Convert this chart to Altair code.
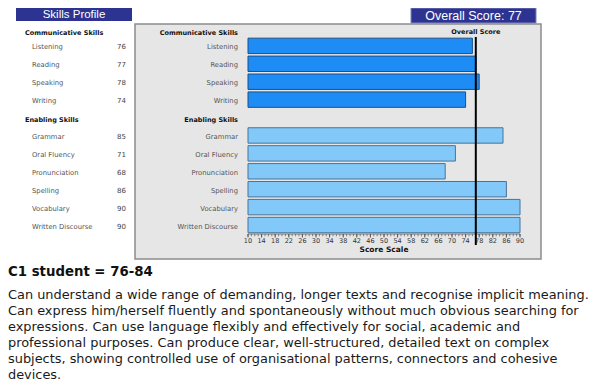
import altair as alt
import pandas as pd

# ---- data ----
comm_skills = ["Listening", "Reading", "Speaking", "Writing"]
comm_scores = [76, 77, 78, 74]
enab_skills = ["Grammar", "Oral Fluency", "Pronunciation", "Spelling", "Vocabulary", "Written Discourse"]
enab_scores = [85, 71, 68, 86, 90, 90]
headers = ["Communicative Skills", "Enabling Skills"]
overall_score = 77
label_values = [10, 14, 18, 22, 26, 30, 34, 38, 42, 46, 50, 54, 58, 62, 66, 70, 74, 78, 82, 86, 90]
minor_ticks = list(range(10, 91))
x_domain = [10, 90]
axis_title = "Score Scale"
heading = "C1 student = 76-84"
paragraph = [
    "Can understand a wide range of demanding, longer texts and recognise implicit meaning.",
    "Can express him/herself fluently and spontaneously without much obvious searching for",
    "expressions. Can use language flexibly and effectively for social, academic and",
    "professional purposes. Can produce clear, well-structured, detailed text on complex",
    "subjects, showing controlled use of organisational patterns, connectors and cohesive",
    "devices.",
]

rows = [headers[0]] + comm_skills + [headers[1]] + enab_skills
df = pd.DataFrame({
    "skill": comm_skills + enab_skills,
    "score": comm_scores + enab_scores,
    "group": ["Communicative"] * len(comm_skills) + ["Enabling"] * len(enab_skills),
})
ticks_df = pd.DataFrame({"t": minor_ticks})
labels_df = pd.DataFrame({"t": label_values})
one = pd.DataFrame({"k": [0]})

NAVY = "#2d3391"
FONT = "DejaVu Sans"
BOXFONT = "Liberation Sans"
yscale = alt.Scale(domain=rows, paddingInner=0.14, paddingOuter=0.07)
xscale = alt.Scale(domain=x_domain, nice=False, zero=False)
Y = alt.Y("skill:N", scale=yscale, axis=None)

panel = alt.Chart(one).mark_rect(fill="#e6e6e6", stroke="#8c8c8c", strokeWidth=1.5).encode(
    x=alt.value(-113), x2=alt.value(293), y=alt.value(5), y2=alt.value(240))

sp_box = alt.Chart(one).mark_rect(fill=NAVY).encode(
    x=alt.value(-232), x2=alt.value(-116), y=alt.value(-11), y2=alt.value(2))
sp_text = alt.Chart(one).mark_text(text="Skills Profile", color="white", font=BOXFONT, fontSize=11.5,
                                   align="center", baseline="middle").encode(
    x=alt.value(-174), y=alt.value(-4))

os_box = alt.Chart(one).mark_rect(fill=NAVY, stroke="#7f84b8", strokeWidth=1).encode(
    x=alt.value(163), x2=alt.value(288), y=alt.value(-11), y2=alt.value(4))
os_text = alt.Chart(one).mark_text(text=f"Overall Score: {overall_score}", color="white", font=BOXFONT,
                                   fontSize=12.5, align="center", baseline="middle").encode(
    x=alt.value(225.5), y=alt.value(-3))

bars = alt.Chart(df).mark_bar(strokeWidth=1).encode(
    x=alt.X("score:Q", scale=xscale, axis=None),
    x2=alt.datum(10),
    y=Y,
    color=alt.Color("group:N", scale=alt.Scale(domain=["Communicative", "Enabling"],
                                               range=["#1e8cf5", "#82c8f8"]), legend=None),
    stroke=alt.Stroke("group:N", scale=alt.Scale(domain=["Communicative", "Enabling"],
                                                 range=["#1d4f86", "#4a7398"]), legend=None),
)

# hand-built x axis (domain line, minor/major ticks, labels, title)
domain_line = alt.Chart(one).mark_rule(color="#777", strokeWidth=1).encode(
    x=alt.datum(x_domain[0]), x2=alt.datum(x_domain[1]), y=alt.value(215))
minor = alt.Chart(ticks_df).mark_rule(color="#666", strokeWidth=0.8).encode(
    x=alt.X("t:Q", axis=None), y=alt.value(215), y2=alt.value(217.3))
major = alt.Chart(labels_df).mark_rule(color="#555", strokeWidth=1).encode(
    x=alt.X("t:Q", axis=None), y=alt.value(215), y2=alt.value(218.5))
tick_lbls = alt.Chart(labels_df).mark_text(font=FONT, fontSize=6.5, color="#333", align="center",
                                           baseline="middle").encode(
    x=alt.X("t:Q", axis=None), y=alt.value(222), text="t:Q")
x_title = alt.Chart(one).mark_text(text=axis_title, font=FONT, fontSize=7.5, fontWeight="bold",
                                   color="#111", align="center", baseline="middle").encode(
    x=alt.value(136), y=alt.value(230.5))

rule = alt.Chart(one).mark_rule(color="black", strokeWidth=2).encode(
    x=alt.datum(overall_score), y=alt.value(18), y2=alt.value(226))
rule_lbl = alt.Chart(one).mark_text(text="Overall Score", font=FONT, fontSize=6.5, fontWeight="bold",
                                    color="#111", align="center", baseline="middle").encode(
    x=alt.datum(overall_score), y=alt.value(13))

mid_labels = alt.Chart(df).mark_text(font=FONT, fontSize=6.8, color="#555", align="right",
                                     baseline="middle", dy=1.5).encode(
    x=alt.value(-10), y=Y, text="skill:N")
left_labels = alt.Chart(df).mark_text(font=FONT, fontSize=6.8, color="#555", align="left",
                                      baseline="middle", dy=1.5).encode(
    x=alt.value(-216), y=Y, text="skill:N")
left_vals = alt.Chart(df).mark_text(font=FONT, fontSize=7, color="#444", align="right",
                                    baseline="middle", dy=1.5).encode(
    x=alt.value(-122), y=Y, text="score:Q")

hdr_layers = []
for name, yy in zip(headers, [14, 101]):
    hdr_layers.append(alt.Chart(one).mark_text(text=name, font=FONT, fontSize=6.5, fontWeight="bold",
                                               color="#111", align="right", baseline="middle").encode(
        x=alt.value(-10), y=alt.value(yy)))
    hdr_layers.append(alt.Chart(one).mark_text(text=name, font=FONT, fontSize=6.5, fontWeight="bold",
                                               color="#111", align="left", baseline="middle").encode(
        x=alt.value(-223), y=alt.value(yy)))

head_txt = alt.Chart(one).mark_text(text=heading, font=FONT, fontSize=13.3, fontWeight="bold",
                                    color="#111", align="left", baseline="middle").encode(
    x=alt.value(-240), y=alt.value(253))
para_txt = alt.Chart(one).mark_text(text=paragraph, font=FONT, fontSize=12.9, lineHeight=15.9,
                                    color="#1a1a1a", align="left", baseline="top").encode(
    x=alt.value(-240), y=alt.value(270))

chart = alt.layer(panel, sp_box, sp_text, os_box, os_text, bars, domain_line, minor, major, tick_lbls,
                  x_title, rule, rule_lbl, mid_labels, left_labels, left_vals, *hdr_layers,
                  head_txt, para_txt).properties(
    width=272, height=215,
    autosize=alt.AutoSizeParams(type="none"),
    padding={"left": 240, "top": 11, "right": 72, "bottom": 147},
    background="white",
).configure_view(strokeWidth=0).configure_axis(disable=True)

chart.save("out.html", embed_options={"renderer": "svg", "actions": False})
